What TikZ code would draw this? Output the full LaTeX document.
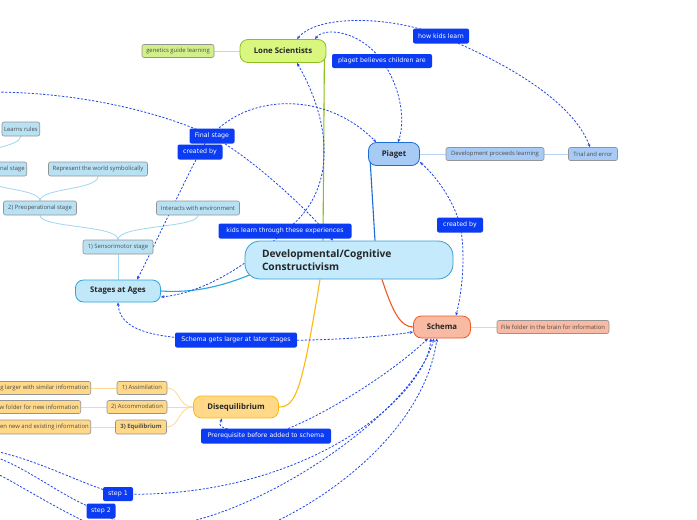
\documentclass[tikz,border=0pt]{standalone}
\usepackage{fontspec}
\setmainfont{Open Sans}
\newfontfamily\relfont{DejaVu Sans}
\usetikzlibrary{arrows.meta}
\definecolor{relblue}{HTML}{0B3BF2}
\definecolor{reldash}{HTML}{2046E8}
\definecolor{cenfill}{HTML}{C4EAFB}
\definecolor{cendraw}{HTML}{3A9ED5}
\definecolor{lsfill}{HTML}{D9F77E}
\definecolor{lsdraw}{HTML}{8CBF1F}
\definecolor{lsleaf}{HTML}{D2F08A}
\definecolor{lslight}{HTML}{C6E391}
\definecolor{pgfill}{HTML}{A8CBF5}
\definecolor{pgdraw}{HTML}{1C6ED6}
\definecolor{pglight}{HTML}{B8D4F5}
\definecolor{stfill}{HTML}{C1E8F9}
\definecolor{stdraw}{HTML}{2AA6E0}
\definecolor{stleaf}{HTML}{B8E2F4}
\definecolor{stlight}{HTML}{9ED8F0}
\definecolor{scfill}{HTML}{F8BAA3}
\definecolor{scdraw}{HTML}{EF5A28}
\definecolor{sclight}{HTML}{F8CDBE}
\definecolor{dqfill}{HTML}{FFD987}
\definecolor{dqdraw}{HTML}{FDB913}
\definecolor{dqlight}{HTML}{FFD98C}
\pgfdeclarelayer{paper}
\pgfdeclarelayer{bg}
\pgfdeclarelayer{mid}
\pgfsetlayers{paper,bg,mid,main}
\begin{document}
\begin{tikzpicture}[x=1pt,y=-1pt,>={Stealth[length=3.5pt,width=3pt]},
	topic/.style={rounded corners=8pt,line width=0.8pt,inner sep=0pt,text=black!85,font=\fontsize{7.8}{9}\selectfont\bfseries},
	leaf/.style={rounded corners=2pt,line width=0.6pt,draw=black!42,inner sep=2pt,minimum height=13pt,text=black!70,font=\fontsize{5.9}{7}\selectfont},
	rel/.style={fill=relblue,rounded corners=2pt,inner sep=0pt,minimum height=15pt,text=white,font=\relfont\fontsize{6.3}{7}\selectfont},
	relline/.style={draw=reldash,line width=0.8pt,dash pattern=on 2.2pt off 1.6pt},
	branch/.style={line width=1.1pt},
	twig/.style={line width=0.8pt}]
	\useasboundingbox (0,0) rectangle (697,520);
	\clip (0,0) rectangle (697,520);
	\begin{pgfonlayer}{paper}
		\fill[white] (0,0) rectangle (697,520);
	\end{pgfonlayer}

	\node[topic,draw=cendraw,fill=cenfill,rounded corners=15pt,minimum height=38pt,text width=174pt,inner xsep=17pt,align=left,font=\fontsize{10.2}{13}\selectfont\bfseries] (central) at (349,260) {Developmental/Cognitive\\Constructivism};

	\node[topic,draw=lsdraw,fill=lsfill,minimum width=86pt,minimum height=23pt] (ls) at (283,51) {Lone Scientists};
	\node[leaf,fill=lsleaf,minimum width=72pt] (genetics) at (178,51) {genetics guide learning};

	\node[topic,draw=pgdraw,fill=pgfill,minimum width=51pt,minimum height=23pt] (piaget) at (394,154) {Piaget};
	\node[leaf,fill=pgfill,minimum width=98pt] (devproc) at (495,154) {Development proceeds learning};
	\node[leaf,fill=pgfill,minimum width=49pt] (trial) at (593,154) {Trial and error};

	\node[topic,draw=stdraw,fill=stfill,minimum width=85pt,minimum height=22pt] (stages) at (118,291) {Stages at Ages};
	\node[leaf,fill=stleaf,minimum width=70pt,minimum height=14pt] (sensori) at (118,247) {1) Sensorimotor stage};
	\node[leaf,fill=stleaf,minimum width=83pt,minimum height=14pt] (interacts) at (198,208) {Interacts with environment};
	\node[leaf,fill=stleaf,minimum width=73pt,minimum height=14pt] (preop) at (40,208) {2) Preoperational stage};
	\node[leaf,fill=stleaf,minimum width=99pt,minimum height=14pt] (represent) at (98,169) {Represent the world symbolically};
	\node[leaf,fill=stleaf,minimum height=14pt,anchor=east] (concrete) at (27,169) {3) Concrete operational stage};
	\node[leaf,fill=stleaf,minimum height=14pt,anchor=east] (learns) at (40,129) {Learns rules};

	\node[topic,draw=scdraw,fill=scfill,minimum width=57pt,minimum height=22pt] (schema) at (442,327) {Schema};
	\node[leaf,fill=scfill,minimum width=112pt] (folder) at (553,327) {File folder in the brain for information};

	\node[topic,draw=dqdraw,fill=dqfill,minimum width=85pt,minimum height=22pt] (diseq) at (236,407) {Disequilibrium};
	\node[leaf,fill=dqfill,minimum width=50pt] (assim) at (142,388) {1) Assimilation};
	\node[leaf,fill=dqfill,minimum width=60pt] (accom) at (137,407) {2) Accommodation};
	\node[leaf,fill=dqfill,minimum width=51pt,minimum height=14pt,font=\fontsize{5.9}{7}\selectfont\bfseries] (equil) at (141,427) {3) Equilibrium};
	\node[leaf,fill=dqfill,anchor=east] (larger1) at (91,388) {Schema getting larger with similar information};
	\node[leaf,fill=dqfill,anchor=east] (newfolder) at (81,407) {Create new folder for new information};
	\node[leaf,fill=dqfill,minimum height=14pt,anchor=east] (balance) at (91,427) {Balance between new and existing information};

	\node[rel,minimum width=56pt] (howkids) at (441,36) {how kids learn};
	\node[rel,minimum width=100pt,minimum height=14pt] (believes) at (382,61) {plaget believes children are};
	\node[rel,minimum width=45pt] (final) at (212,136) {Final stage};
	\node[rel,minimum width=45pt] (createdL) at (200,152) {created by};
	\node[rel,minimum width=46pt] (createdR) at (460,225) {created by};
	\node[rel,minimum width=133pt] (kids) at (285,231) {kids learn through these experiences};
	\node[rel,minimum width=122pt] (larger) at (236,340) {Schema gets larger at later stages};
	\node[rel,minimum width=130pt] (prereq) at (266,436) {Prerequisite before added to schema};
	\node[rel,minimum width=30pt,minimum height=14pt] (step1) at (118,494) {step 1};
	\node[rel,minimum width=29pt] (step2) at (101,511) {step 2};

	\coordinate (formal) at (-10,92);
	\coordinate (s1) at (-10,450);
	\coordinate (s2) at (-10,455);
	\coordinate (s3) at (-10,470);
	\coordinate (s3b) at (170,548);

	\begin{pgfonlayer}{bg}
		\draw[branch,lsdraw] ([xshift=-26pt]central.north) -- ([xshift=-2pt,yshift=-6pt]ls.east);
		\draw[branch,pgdraw] ([xshift=26pt]central.north) -- ([xshift=2pt,yshift=-6pt]piaget.west);
		\draw[branch,stdraw] ([xshift=12pt,yshift=-12pt]central.west) .. controls (220,288) and (190,293) .. (stages.east);
		\draw[branch,scdraw] ([xshift=33pt]central.south) .. controls (392,310) and (400,327) .. (schema.west);
		\draw[branch,dqdraw] ([xshift=-29pt]central.south) .. controls (302,390) and (296,407) .. (diseq.east);

		\draw[twig,lslight] (genetics.east) -- (ls.west);
		\draw[twig,pglight] (piaget.east) -- (devproc.west);
		\draw[twig,pglight] (devproc.east) -- (trial.west);
		\draw[twig,sclight] (schema.east) -- (folder.west);

		\draw[twig,stlight] (stages.north) -- (sensori.south);
		\draw[twig,stlight] (sensori.north) .. controls (118,225) and (40,228) .. (preop.south);
		\draw[twig,stlight] (sensori.north) .. controls (118,225) and (198,228) .. (interacts.south);
		\draw[twig,stlight] (preop.north) .. controls (40,188) and (-18,190) .. (concrete.south);
		\draw[twig,stlight] (preop.north) .. controls (40,188) and (98,190) .. (represent.south);
		\draw[twig,stlight] (concrete.north) .. controls (-18,145) and (19,148) .. (learns.south);

		\draw[twig,dqlight] (diseq.west) .. controls (178,407) and (180,388) .. (assim.east);
		\draw[twig,dqlight] (diseq.west) -- (accom.east);
		\draw[twig,dqlight] (diseq.west) .. controls (178,407) and (180,427) .. (equil.east);
		\draw[twig,dqlight] (assim.west) -- (larger1.east);
		\draw[twig,dqlight] (accom.west) -- (newfolder.east);
		\draw[twig,dqlight] (equil.west) -- (balance.east);
	\end{pgfonlayer}

	\begin{pgfonlayer}{mid}
		\draw[relline,<->] ([xshift=14pt]ls.north) .. controls (318,14) and (392,16) .. (howkids.center) .. controls (528,72) and (576,110) .. ([xshift=-3pt]trial.north);
		\draw[relline,<->] ([xshift=32pt]ls.north) .. controls (324,27) and (360,30) .. (believes.center) .. controls (400,85) and (406,120) .. ([xshift=4pt]piaget.north);
		\draw[relline,<->] ([xshift=19pt]stages.north) .. controls (150,255) and (180,190) .. (createdL.center) .. controls (230,95) and (320,85) .. ([xshift=8pt]piaget.north west);
		\draw[relline,->] (formal) .. controls (80,92) and (160,112) .. (final.center) .. controls (255,160) and (310,212) .. ([xshift=-16pt]central.north);
		\draw[relline,<->] ([xshift=14pt]ls.south) .. controls (330,120) and (340,190) .. (kids.center) .. controls (255,258) and (210,292) .. ([yshift=-6pt]stages.east);
		\draw[relline,<->] ([yshift=-8pt]piaget.east) .. controls (440,180) and (455,205) .. (createdR.center) .. controls (466,255) and (462,292) .. ([xshift=14pt]schema.north);
		\draw[relline,<->] (stages.south) .. controls (120,330) and (150,340) .. (larger.center) .. controls (320,342) and (380,337) .. ([yshift=-5pt]schema.west);
		\draw[relline,<->] ([xshift=-14pt]diseq.south) .. controls (218,428) .. (prereq.center) .. controls (310,425) and (390,375) .. ([xshift=-14pt]schema.south);
		\draw[relline,->] (s1) .. controls (40,460) and (80,484) .. (step1.center) .. controls (300,500) and (425,400) .. ([xshift=-11pt]schema.south);
		\draw[relline,->] (s2) .. controls (30,468) and (65,500) .. (step2.center) .. controls (170,575) and (410,430) .. ([xshift=-8pt]schema.south);
		\draw[relline,->] (s3) .. controls (40,495) and (100,540) .. (s3b) .. controls (250,555) and (420,460) .. ([xshift=-5pt]schema.south);
	\end{pgfonlayer}
\end{tikzpicture}
\end{document}
